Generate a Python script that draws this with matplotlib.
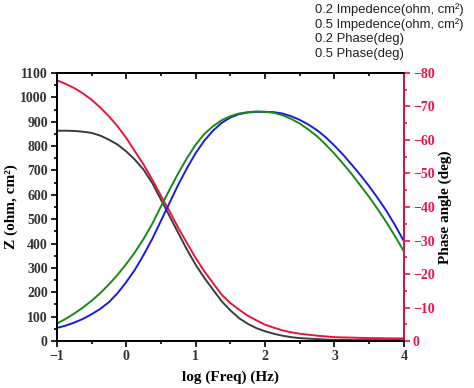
import matplotlib
matplotlib.use("Agg")
import matplotlib.pyplot as plt
from matplotlib.ticker import MultipleLocator

# ---- data ----
logf = [-1.0, -0.875, -0.75, -0.625, -0.5, -0.375, -0.25, -0.125,
        0.0, 0.125, 0.25, 0.375, 0.5, 0.625, 0.75, 0.875,
        1.0, 1.125, 1.25, 1.375, 1.5, 1.625, 1.75, 1.875,
        2.0, 2.125, 2.25, 2.375, 2.5, 2.625, 2.75, 2.875,
        3.0, 3.125, 3.25, 3.375, 3.5, 3.625, 3.75, 3.875, 4.0]
z_02 = [863, 863, 862, 859, 854, 843, 826, 806,
        778, 744, 703, 648, 580, 512, 443, 375,
        313, 259, 211, 163, 126, 94, 71, 53,
        40, 30, 22, 16, 12, 10, 8, 6,
        5, 5, 4, 4, 4, 4, 4, 4, 4]
z_05 = [1070, 1055, 1038, 1016, 990, 958, 922, 881,
        833, 778, 724, 662, 596, 532, 464, 402,
        341, 286, 238, 190, 156, 129, 104, 85,
        67, 55, 44, 36, 30, 26, 22, 19,
        16, 15, 14, 13, 12, 12, 11, 11, 11]
ph_02 = [-3.9, -4.6, -5.5, -6.6, -8.0, -9.6, -11.6, -14.3,
         -17.6, -21.3, -25.7, -30.5, -35.9, -41.3, -46.7, -51.6,
         -56.1, -59.8, -62.8, -65.1, -66.7, -67.7, -68.2, -68.4,
         -68.4, -68.3, -67.9, -67.1, -66.0, -64.6, -62.9, -60.8,
         -58.3, -55.6, -52.6, -49.5, -46.2, -42.6, -38.8, -34.5, -29.8]
ph_05 = [-5.2, -6.6, -8.2, -10.0, -12.0, -14.3, -16.9, -19.8,
         -23.0, -26.5, -30.5, -35.0, -40.2, -45.2, -50.1, -54.6,
         -58.6, -61.8, -64.1, -65.9, -67.1, -67.9, -68.3, -68.5,
         -68.4, -68.1, -67.4, -66.3, -64.9, -63.1, -61.1, -58.6,
         -55.9, -52.9, -49.8, -46.4, -43.0, -39.3, -35.4, -31.2, -26.8]
legend_labels = ["0.2 Impedence(ohm, cm\u00b2)", "0.5 Impedence(ohm, cm\u00b2)",
                 "0.2 Phase(deg)", "0.5 Phase(deg)"]
x_label = "log (Freq) (Hz)"
y_label = "Z (ohm, cm\u00b2)"
y2_label = "Phase angle (deg)"

RED_AX = "#e8174a"
TICK_GREY = "#333333"
serif = "Liberation Serif"

fig = plt.figure(figsize=(4.74, 3.88), dpi=100)
ax = fig.add_axes([0.120, 0.121, 0.732, 0.691])
ax2 = ax.twinx()

ax.plot(logf, z_02, color="#3c3c3c", lw=1.4)
ax.plot(logf, z_05, color="#e8163c", lw=1.4)
ax2.plot(logf, ph_02, color="#1c1cd8", lw=1.4)
ax2.plot(logf, ph_05, color="#178a17", lw=1.4)

ax.set_xlim(-1, 4)
ax.set_ylim(0, 1100)
ax2.set_ylim(0, -80)

ax.xaxis.set_major_locator(MultipleLocator(1))
ax.xaxis.set_minor_locator(MultipleLocator(0.5))
ax.yaxis.set_major_locator(MultipleLocator(100))
ax.yaxis.set_minor_locator(MultipleLocator(50))
ax2.yaxis.set_major_locator(MultipleLocator(10))
ax2.yaxis.set_minor_locator(MultipleLocator(5))

for a in (ax, ax2):
    for s in a.spines.values():
        s.set_linewidth(1.3)

ax.tick_params(axis="both", which="both", direction="out", width=1.2,
               labelsize=10, labelcolor=TICK_GREY, top=False, pad=2.5)
ax.tick_params(which="major", length=4)
ax.tick_params(which="minor", length=2.5)
sec = ax.secondary_xaxis("top")
sec.xaxis.set_major_locator(MultipleLocator(1))
sec.xaxis.set_minor_locator(MultipleLocator(0.5))
sec.tick_params(which="both", direction="in", width=1.2, labeltop=False)
sec.tick_params(which="major", length=4)
sec.tick_params(which="minor", length=2.5)
sec.spines["top"].set_linewidth(1.3)

ax2.spines["right"].set_color(RED_AX)
ax2.tick_params(axis="y", which="both", direction="out", color=RED_AX, width=1.2,
                labelsize=10, labelcolor=RED_AX, pad=2.5)
ax2.tick_params(which="major", length=4)
ax2.tick_params(which="minor", length=2.5)

for lab in ax.get_xticklabels() + ax.get_yticklabels() + ax2.get_yticklabels():
    lab.set_fontfamily(serif)
    lab.set_fontweight("bold")

ax.set_xlabel(x_label, fontfamily=serif, fontweight="bold", fontsize=11, labelpad=5)
ax.set_ylabel(y_label, fontfamily=serif, fontweight="bold", fontsize=11, labelpad=2)
ax2.set_ylabel(y2_label, fontfamily=serif, fontweight="bold", fontsize=11, labelpad=3)

leg_y = [0.9755, 0.9369, 0.8982, 0.8608]
for lab, yy in zip(legend_labels, leg_y):
    fig.text(0.664, yy, lab, ha="left", va="center", fontsize=9.4,
             fontfamily="Liberation Sans", color="#222222")

fig.savefig("out.png", dpi=100)
